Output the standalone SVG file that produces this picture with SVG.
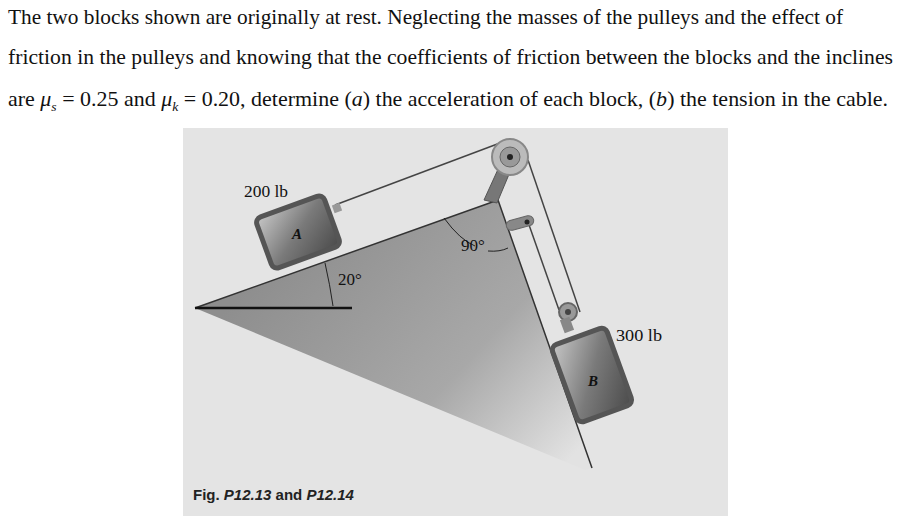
<svg xmlns="http://www.w3.org/2000/svg" width="898" height="525" viewBox="0 0 898 525">
<defs>
<linearGradient id="tri" gradientUnits="userSpaceOnUse" x1="300" y1="230" x2="560" y2="470">
<stop offset="0" stop-color="#8e8e8e"/><stop offset="0.6" stop-color="#a8a8a8"/><stop offset="1" stop-color="#e2e2e2"/>
</linearGradient>
<linearGradient id="blk" x1="0" y1="0" x2="1" y2="1">
<stop offset="0" stop-color="#c8c8c8"/><stop offset="0.5" stop-color="#7a7a7a"/><stop offset="1" stop-color="#4a4a4a"/>
</linearGradient>
<style>
.t{font-family:"Liberation Serif",serif;font-size:21px;fill:#111}
.l{font-family:"Liberation Serif",serif;font-size:17px;fill:#111}
.ln{stroke:#333;stroke-width:1.5;fill:none}
.blk{fill:url(#blk);stroke:#555;stroke-width:5}
</style>
</defs>
<rect width="898" height="525" fill="#fff"/>
<text class="t" x="8" y="24" textLength="835" lengthAdjust="spacingAndGlyphs">The two blocks shown are originally at rest. Neglecting the masses of the pulleys and the effect of</text>
<text class="t" x="8" y="64" textLength="885" lengthAdjust="spacingAndGlyphs">friction in the pulleys and knowing that the coefficients of friction between the blocks and the inclines</text>
<text class="t" x="8" y="106" textLength="880" lengthAdjust="spacingAndGlyphs">are <tspan font-style="italic">μ</tspan><tspan font-size="13" dy="5" font-style="italic">s</tspan><tspan dy="-5"> = 0.25 and </tspan><tspan font-style="italic">μ</tspan><tspan font-size="13" dy="5" font-style="italic">k</tspan><tspan dy="-5"> = 0.20, determine (</tspan><tspan font-style="italic">a</tspan>) the acceleration of each block, (<tspan font-style="italic">b</tspan>) the tension in the cable.</text>
<rect x="183" y="128" width="545" height="388" fill="#e4e4e4"/>
<g id="incline">
<polygon points="195,308 498,200 592,468 585,470" fill="url(#tri)"/>
<polyline class="ln" points="195,308 498,200 592,468" stroke-width="2"/>
<line x1="195" y1="308" x2="352" y2="308" stroke="#111" stroke-width="2.5"/>
</g>
<g id="cables" stroke="#444" stroke-width="1.5" fill="none">
<line x1="335" y1="205" x2="508" y2="140"/>
<line x1="528" y1="160" x2="580" y2="312"/>
<line x1="528" y1="222" x2="559" y2="310"/>
</g>
<g id="pulley">
<polygon points="484,200 497,203 515,160 505,154" fill="#777" stroke="#555"/>
<circle cx="510" cy="157" r="18" fill="#bbb" stroke="#888" stroke-width="2"/>
<circle cx="510" cy="157" r="10" fill="#999" stroke="#666"/>
<circle cx="510" cy="157" r="3" fill="#222"/>
<rect x="506" y="218" width="28" height="10" rx="5" fill="#888" stroke="#666" transform="rotate(-15 520 223)"/>
<circle cx="527" cy="222" r="2.5" fill="#222"/>
</g>
<g id="blockA">
<rect x="262" y="205" width="72" height="54" rx="6" class="blk" transform="rotate(-20 298 232)"/>
<rect x="333" y="204" width="8" height="8" fill="#999" transform="rotate(-20 337 208)"/>
<text x="297" y="239" font-family="Liberation Serif,serif" font-style="italic" font-weight="bold" font-size="15" text-anchor="middle" fill="#111">A</text>
<text class="l" x="244" y="197" textLength="44" lengthAdjust="spacingAndGlyphs">200 lb</text>
</g>
<g id="blockB">
<circle cx="568" cy="312" r="9" fill="#999" stroke="#666" stroke-width="2"/>
<circle cx="568" cy="312" r="3" fill="#444"/>
<rect x="562" y="318" width="10" height="14" fill="#888" transform="rotate(-20 567 325)"/>
<rect x="563" y="334" width="58" height="82" rx="6" class="blk" transform="rotate(-20 592 375)"/>
<text x="593" y="386" font-family="Liberation Serif,serif" font-style="italic" font-weight="bold" font-size="15" text-anchor="middle" fill="#111">B</text>
<text class="l" x="616" y="341" textLength="46" lengthAdjust="spacingAndGlyphs">300 lb</text>
</g>
<g id="angles" stroke="#222" fill="none" stroke-width="1">
<path d="M325,263 Q330,285 333,306"/>
<path d="M444,218 Q460,240 475,246"/>
<path d="M488,251 Q500,252 508,248"/>
</g>
<text class="l" x="338" y="285" font-size="15">20°</text>
<text class="l" x="461" y="251" font-size="15">90°</text>
<text x="193" y="500" font-family="Liberation Sans,sans-serif" font-size="15" font-weight="bold" fill="#222">Fig. <tspan font-style="italic">P12.13</tspan> and <tspan font-style="italic">P12.14</tspan></text>
</svg>
